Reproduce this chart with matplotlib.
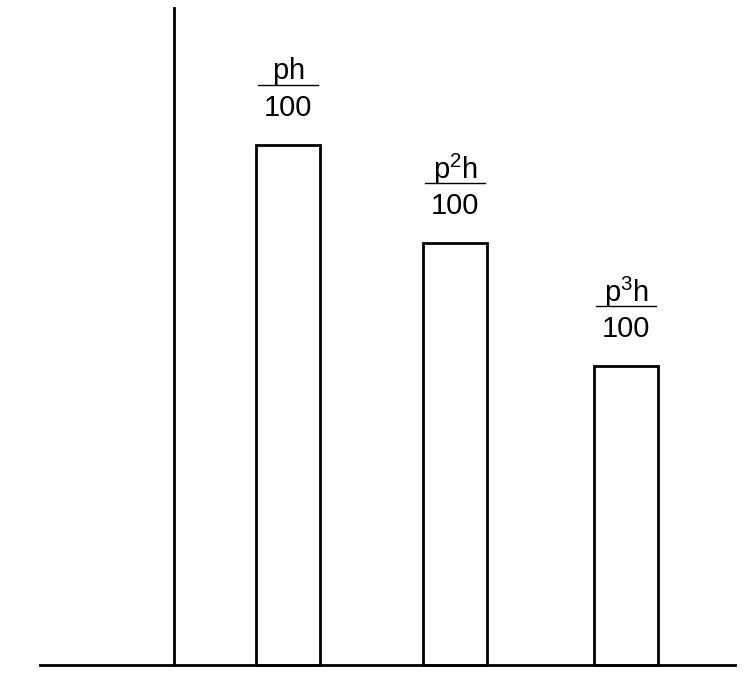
import matplotlib
matplotlib.use("Agg")
import matplotlib.pyplot as plt

plt.rcParams['font.family'] = ['Liberation Sans', 'DejaVu Sans']
plt.rcParams['mathtext.fontset'] = 'custom'
plt.rcParams['mathtext.rm'] = 'Liberation Sans'
plt.rcParams['mathtext.it'] = 'Liberation Sans'

# bar positions (centres) and heights, in picture pixels
centres = [288, 455, 626]
heights = [520, 422, 299]
numerators = [r'$\mathrm{ph}$', r'$\mathrm{p^2h}$', r'$\mathrm{p^3h}$']
denominator = '100'
bar_width = 64

fig = plt.figure(figsize=(7.5, 6.79), dpi=100)
ax = fig.add_axes([0, 0, 1, 1])
ax.set_xlim(0, 750)
ax.set_ylim(-14, 665)
ax.axis('off')

# axes lines
ax.plot([40, 735], [0, 0], color='black', lw=2)
ax.plot([174, 174], [0, 657], color='black', lw=2)

ax.bar(centres, heights, width=bar_width, bottom=0, facecolor='white',
       edgecolor='black', linewidth=2)

for x, h, num in zip(centres, heights, numerators):
    ax.text(x, h + 37, denominator, ha='center', va='center', fontsize=21)
    ax.plot([x - 30, x + 30], [h + 60, h + 60], color='black', lw=1)
    ax.text(x, h + 74, num, ha='center', va='center', fontsize=21)

fig.savefig('out.png', dpi=100)
